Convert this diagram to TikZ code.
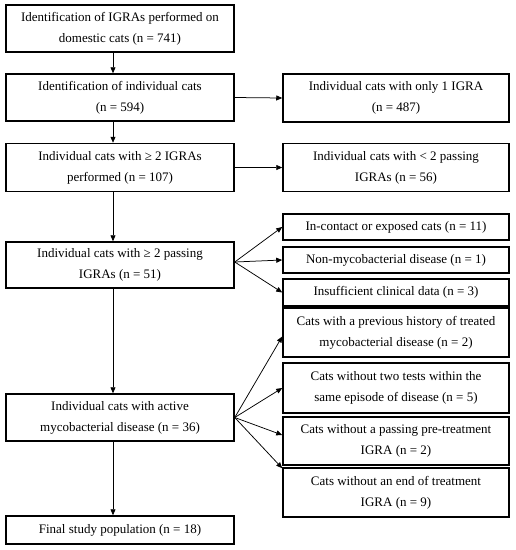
\documentclass[tikz,border=0pt]{standalone}
\usepackage{fontspec}
\setmainfont{Liberation Serif}
\usetikzlibrary{arrows.meta}
\begin{document}
\begin{tikzpicture}[x=1pt,y=-1pt,
  box/.style={draw, line width=1.5pt, minimum width=#1, inner sep=0pt, align=center,
    font=\fontsize{13}{21}\selectfont},
  box/.default=228pt,
  arr/.style={line width=0.75pt, -{Triangle[length=6pt,width=5pt]}}]
\useasboundingbox (0,0) rectangle (516,550);
% left column
\node[box, minimum height=47pt] (L1) at (120,28.5) {Identification of IGRAs performed on\\domestic cats (n = 741)};
\node[box, minimum height=47pt] (L2) at (120,97.5) {Identification of individual cats\\(n = 594)};
\node[box, minimum height=48pt] (L3) at (120,167.5) {Individual cats with ≥ 2 IGRAs\\performed (n = 107)};
\node[box, minimum height=46pt] (L4) at (120,265) {Individual cats with ≥ 2 passing\\IGRAs (n = 51)};
\node[box, minimum height=47pt] (L5) at (120,417.5) {Individual cats with active\\mycobacterial disease (n = 36)};
\node[box, minimum height=28pt] (L6) at (120,530) {Final study population (n = 18)};
% right column
\node[box=226pt, minimum height=48pt] (R1) at (396,98) {Individual cats with only 1 IGRA\\(n = 487)};
\node[box=226pt, minimum height=48pt] (R2) at (396,167.5) {Individual cats with < 2 passing\\IGRAs (n = 56)};
\node[box=226pt, minimum height=26pt] (R3) at (396,227) {In-contact or exposed cats (n = 11)};
\node[box=226pt, minimum height=26pt] (R4) at (396,260) {Non-mycobacterial disease (n = 1)};
\node[box=226pt, minimum height=27pt] (R5) at (396,292.5) {Insufficient clinical data (n = 3)};
\node[box=226pt, minimum height=49pt] (R6) at (396,332.5) {Cats with a previous history of treated\\mycobacterial disease (n = 2)};
\node[box=226pt, minimum height=50pt] (R7) at (396,388) {Cats without two tests within the\\same episode of disease (n = 5)};
\node[box=226pt, minimum height=48pt] (R8) at (396,441) {Cats without a passing pre-treatment\\IGRA (n = 2)};
\node[box=226pt, minimum height=49pt] (R9) at (396,492.5) {Cats without an end of treatment\\IGRA (n = 9)};
% vertical arrows
\draw[arr] ([xshift=-7pt]L1.south) -- ([xshift=-7pt]L2.north);
\draw[arr] ([xshift=-7pt]L2.south) -- ([xshift=-7pt]L3.north);
\draw[arr] ([xshift=-7pt]L3.south) -- ([xshift=-7pt]L4.north);
\draw[arr] ([xshift=-7pt]L4.south) -- ([xshift=-7pt]L5.north);
\draw[arr] ([xshift=-7pt]L5.south) -- ([xshift=-7pt]L6.north);
% side arrows
\draw[arr] (L2.east) -- (R1.west);
\draw[arr] (L3.east) -- (R2.west);
\draw[arr] ([yshift=3pt]L4.east) -- (R3.west);
\draw[arr] ([yshift=3pt]L4.east) -- (R4.west);
\draw[arr] ([yshift=3pt]L4.east) -- (R5.west);
\draw[arr] (L5.east) -- ([yshift=-4pt]R6.west);
\draw[arr] (L5.east) -- (R7.west);
\draw[arr] (L5.east) -- ([yshift=6pt]R8.west);
\draw[arr] (L5.east) -- ([yshift=-1pt]R9.north west);
\end{tikzpicture}
\end{document}
